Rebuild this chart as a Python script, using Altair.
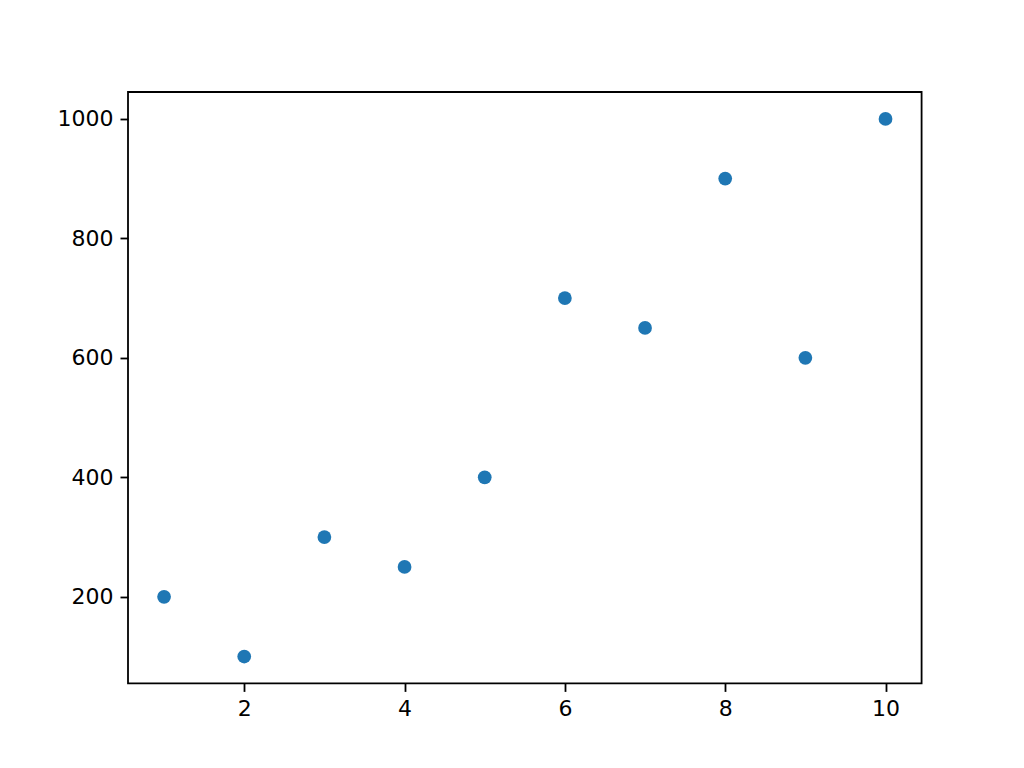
import altair as alt
import pandas as pd

xs = [1, 2, 3, 4, 5, 6, 7, 8, 9, 10]
ys = [200, 100, 300, 250, 400, 700, 650, 900, 600, 1000]
x_ticks = [2, 4, 6, 8, 10]
y_ticks = [200, 400, 600, 800, 1000]

df = pd.DataFrame({"x": xs, "y": ys})

axis_common = dict(
    grid=False, domain=False, tickColor="black", tickSize=8, tickWidth=1.8,
    labelFontSize=22, labelFont="DejaVu Sans", labelColor="black",
    labelPadding=7, title=None, format="d", labelFlush=False, labelOverlap=False,
)

chart = alt.Chart(df).mark_circle(size=189, opacity=1, color="#1f77b4").encode(
    x=alt.X("x:Q", scale=alt.Scale(domain=[0.55, 10.45], nice=False, zero=False),
            axis=alt.Axis(values=x_ticks, **axis_common)),
    y=alt.Y("y:Q", scale=alt.Scale(domain=[55, 1045], nice=False, zero=False),
            axis=alt.Axis(values=y_ticks, **axis_common)),
).properties(
    width=793.6, height=591.4,
    autosize=alt.AutoSizeParams(type="none"),
    padding={"left": 120, "top": 84, "right": 94, "bottom": 76},
).configure(
    background="white",
    view=alt.ViewConfig(stroke="black", strokeWidth=1.8),
)

chart.save("out.html", embed_options={"renderer": "svg", "actions": False})
